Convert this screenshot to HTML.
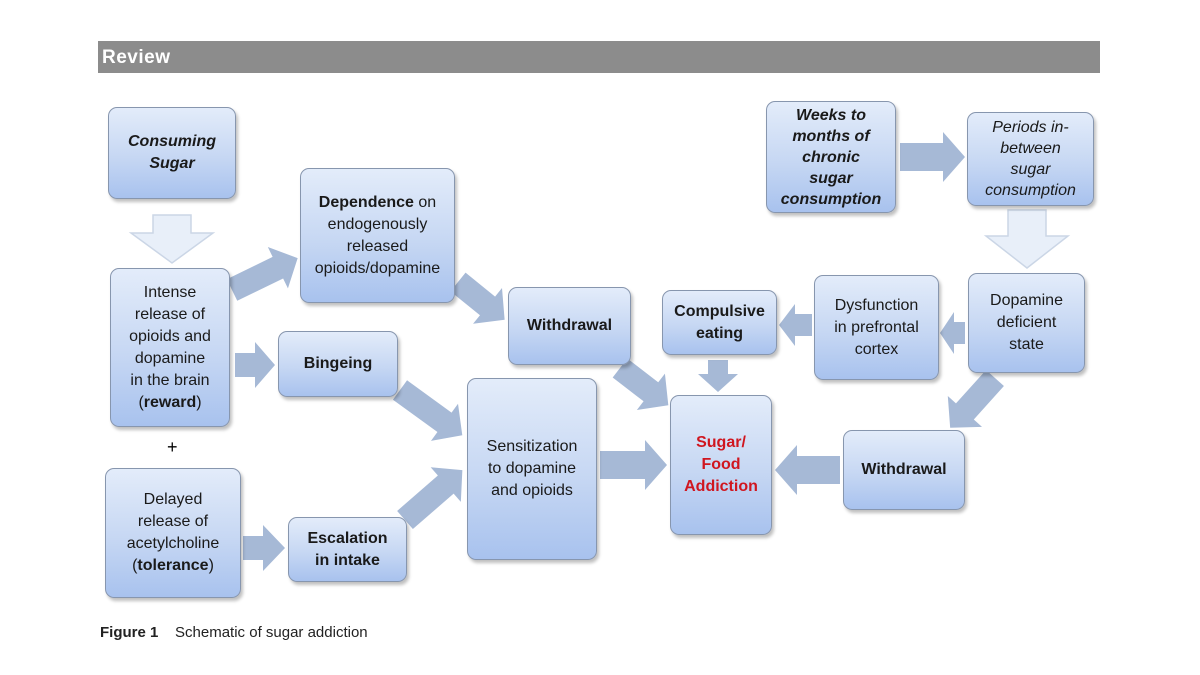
<!DOCTYPE html>
<html><head><meta charset="utf-8"><style>
body{margin:0;width:1200px;height:675px;background:#fff;position:relative;overflow:hidden;font-family:"Liberation Sans",sans-serif}
.hdr{position:absolute;left:98px;top:41px;width:1002px;height:32px;background:#8c8c8c;color:#fff;font-weight:bold;font-size:19px;line-height:33px;padding-left:4px;box-sizing:border-box;letter-spacing:.5px}
.b{position:absolute;box-sizing:border-box;border:1.5px solid #8796ae;border-radius:9px;background:linear-gradient(#e3ecfa,#c6d7f3 55%,#a8c2ee);box-shadow:2px 3px 3px rgba(0,0,0,.25);display:flex;align-items:center;justify-content:center;text-align:center;font-size:16px;line-height:22px;color:#1a1a1a}
.i{font-style:italic}.bo{font-weight:bold}
svg{position:absolute;left:0;top:0}
.cap{position:absolute;left:100px;top:624px;font-size:15px;color:#222}
</style></head><body>
<div class="hdr">Review</div>
<svg width="1200" height="675">
<g fill="#a6b9d6">
<polygon transform="translate(232,290) rotate(-25.9)" points="0,-12 51,-12 51,-23 73,0 51,23 51,12 0,12"/>
<polygon transform="translate(235,365)" points="0,-12 20,-12 20,-23 40,0 20,23 20,12 0,12"/>
<polygon transform="translate(458,282) rotate(39)" points="0,-12 38,-12 38,-23 60,0 38,23 38,12 0,12"/>
<polygon transform="translate(400,390) rotate(36)" points="0,-12 55,-12 55,-23 77,0 55,23 55,12 0,12"/>
<polygon transform="translate(405,520) rotate(-41)" points="0,-12 54,-12 54,-23 76,0 54,23 54,12 0,12"/>
<polygon transform="translate(243,548)" points="0,-12 20,-12 20,-23 42,0 20,23 20,12 0,12"/>
<polygon transform="translate(600,465)" points="0,-14 45,-14 45,-25 67,0 45,25 45,14 0,14"/>
<polygon transform="translate(620,368) rotate(37.6)" points="0,-12 39,-12 39,-23 61,0 39,23 39,12 0,12"/>
<polygon transform="translate(718,360) rotate(90)" points="0,-10 14,-10 14,-20 32,0 14,20 14,10 0,10"/>
<polygon transform="translate(840,470) rotate(180)" points="0,-14 43,-14 43,-25 65,0 43,25 43,14 0,14"/>
<polygon transform="translate(995,378) rotate(132)" points="0,-12 45,-12 45,-23 67,0 45,23 45,12 0,12"/>
<polygon transform="translate(965,333) rotate(180)" points="0,-11 11,-11 11,-21 25,0 11,21 11,11 0,11"/>
<polygon transform="translate(812,325) rotate(180)" points="0,-11 17,-11 17,-21 33,0 17,21 17,11 0,11"/>
<polygon transform="translate(900,157)" points="0,-14 43,-14 43,-25 65,0 43,25 43,14 0,14"/>
</g>
<g fill="#e8eff9" stroke="#cbd6e6" stroke-width="1.5">
<polygon transform="translate(172,215) rotate(90)" points="0,-19 18,-19 18,-41 48,0 18,41 18,19 0,19"/>
<polygon transform="translate(1027,210) rotate(90)" points="0,-19 26,-19 26,-41 58,0 26,41 26,19 0,19"/>
</g>
</svg>
<div class="b i bo" style="left:108px;top:107px;width:128px;height:92px"><span>Consuming<br>Sugar</span></div>
<div class="b" style="left:110px;top:268px;width:120px;height:159px"><span>Intense<br>release of<br>opioids and<br>dopamine<br>in the brain<br>(<b>reward</b>)</span></div>
<div class="b" style="left:300px;top:168px;width:155px;height:135px"><span><b>Dependence</b> on<br>endogenously<br>released<br>opioids/dopamine</span></div>
<div class="b bo" style="left:278px;top:331px;width:120px;height:66px"><span>Bingeing</span></div>
<div class="b bo" style="left:508px;top:287px;width:123px;height:78px"><span>Withdrawal</span></div>
<div class="b" style="left:467px;top:378px;width:130px;height:182px"><span>Sensitization<br>to dopamine<br>and opioids</span></div>
<div class="b" style="left:105px;top:468px;width:136px;height:130px"><span>Delayed<br>release of<br>acetylcholine<br>(<b>tolerance</b>)</span></div>
<div class="b bo" style="left:288px;top:517px;width:119px;height:65px"><span>Escalation<br>in intake</span></div>
<div class="b bo" style="left:662px;top:290px;width:115px;height:65px"><span>Compulsive<br>eating</span></div>
<div class="b bo" style="left:670px;top:395px;width:102px;height:140px;color:#d0161f"><span>Sugar/<br>Food<br>Addiction</span></div>
<div class="b" style="left:814px;top:275px;width:125px;height:105px"><span>Dysfunction<br>in prefrontal<br>cortex</span></div>
<div class="b" style="left:968px;top:273px;width:117px;height:100px"><span>Dopamine<br>deficient<br>state</span></div>
<div class="b i bo" style="left:766px;top:101px;width:130px;height:112px;line-height:21px"><span>Weeks to<br>months of<br>chronic<br>sugar<br>consumption</span></div>
<div class="b i" style="left:967px;top:112px;width:127px;height:94px;line-height:21px"><span>Periods in-<br>between<br>sugar<br>consumption</span></div>
<div class="b bo" style="left:843px;top:430px;width:122px;height:80px"><span>Withdrawal</span></div>
<div style="position:absolute;left:167px;top:437px;font-size:18px">+</div>
<div class="cap"><b>Figure 1</b>&nbsp;&nbsp;&nbsp; Schematic of sugar addiction</div>
</body></html>
